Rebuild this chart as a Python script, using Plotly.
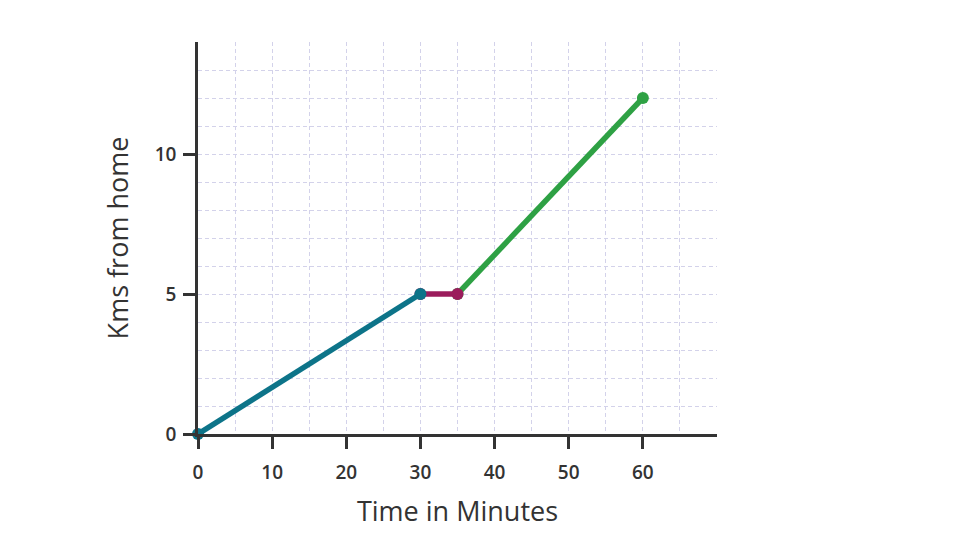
import plotly.graph_objects as go

walk_x = [0, 30]
walk_y = [0, 5]
rest_x = [30, 35]
rest_y = [5, 5]
bus_x = [35, 60]
bus_y = [5, 12]

x_ticks = [0, 10, 20, 30, 40, 50, 60]
y_ticks = [0, 5, 10]

fig = go.Figure()
# drawn so that later segments sit underneath earlier ones at shared points
segments = [
    (bus_x, bus_y, "#2ea144"),
    (rest_x, rest_y, "#9b1c5c"),
    (walk_x, walk_y, "#0d7489"),
]
for xs, ys, col in segments:
    fig.add_trace(go.Scatter(
        x=xs, y=ys, mode="lines+markers",
        line=dict(color=col, width=5.5),
        marker=dict(color=col, size=12),
        cliponaxis=False, showlegend=False, hoverinfo="skip",
    ))

grid_col = "#d3d2ea"
grid_dash = "4px,3px"
axis_common = dict(
    showline=True, linecolor="#333333", linewidth=2.5,
    ticks="outside", ticklen=12, tickwidth=2.5, tickcolor="#333333",
    tickfont=dict(family="Open Sans", size=19, color="#333333", weight=600),
    showgrid=True, gridcolor=grid_col, griddash=grid_dash, gridwidth=1,
    zeroline=False, fixedrange=True,
)

fig.update_xaxes(
    range=[0, 70], tickvals=x_ticks, ticklabelstandoff=7,
    minor=dict(dtick=5, showgrid=True, gridcolor=grid_col, griddash=grid_dash, gridwidth=1, ticks=""),
    title=dict(text="Time in Minutes", font=dict(family="Open Sans", size=27, color="#333333"), standoff=19),
    **axis_common,
)
fig.update_yaxes(
    range=[0, 14], tickvals=y_ticks, ticklabelstandoff=3,
    minor=dict(dtick=1, showgrid=True, gridcolor=grid_col, griddash=grid_dash, gridwidth=1, ticks=""),
    title=dict(text="Kms from home", font=dict(family="Open Sans", size=27, color="#333333"), standoff=19),
    **axis_common,
)

fig.update_layout(
    width=968, height=541,
    margin=dict(l=190, r=259, t=34, b=115),
    plot_bgcolor="white", paper_bgcolor="white",
)

fig.write_html("out.html")
